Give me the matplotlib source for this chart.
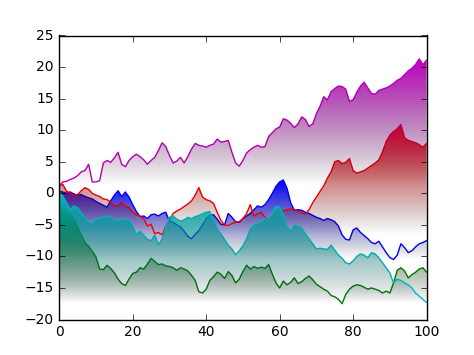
import numpy as np
import matplotlib
matplotlib.use("Agg")
import matplotlib.pyplot as plt
import matplotlib.colors as mcolors
from matplotlib.patches import Polygon

x_vals = np.arange(0, 101)

blue_vals = [0.3, 0.2, 0.0, 0.2, -0.1, -0.3, -0.2, -0.5, -0.7, -0.9,
             -1.3, -1.6, -1.9, -2.2, -1.2, -0.3, 0.4, -0.5, 0.2, -0.6,
             -1.8, -2.9, -3.7, -3.6, -4.0, -3.4, -3.3, -3.6, -3.2, -3.0,
             -4.4, -4.6, -5.0, -5.3, -6.0, -6.8, -7.2, -6.5, -5.9, -5.0,
             -4.0, -3.5, -3.4, -4.1, -4.9, -5.0, -3.2, -3.8, -4.5, -4.6,
             -4.0, -3.6, -3.2, -2.6, -2.0, -2.2, -1.8, -1.0, 0.0, 1.1,
             1.8, 2.1, 0.8, -1.5, -2.7, -2.6, -2.7, -3.0, -3.2, -3.5,
             -3.8, -4.0, -4.3, -4.0, -4.2, -4.5, -5.2, -6.6, -7.3, -7.4,
             -5.8, -5.5, -6.2, -6.7, -7.2, -7.8, -8.0, -7.6, -8.5, -9.4,
             -10.2, -10.5, -9.8, -8.0, -8.6, -9.4, -9.1, -8.5, -8.0, -7.8,
             -7.5]

green_vals = [-1.5, -2.2, -3.0, -3.4, -4.0, -5.3, -6.6, -7.8, -8.4, -9.2,
              -10.1, -12.0, -12.1, -11.4, -11.9, -12.6, -13.6, -14.3, -14.6, -13.6,
              -12.7, -12.5, -11.8, -12.0, -11.2, -10.3, -10.8, -11.3, -11.2, -11.5,
              -11.6, -11.8, -12.2, -11.8, -12.0, -12.3, -13.0, -13.8, -15.6, -15.8,
              -15.2, -13.8, -13.2, -12.5, -12.8, -13.5, -12.4, -13.0, -14.2, -13.6,
              -12.4, -11.4, -12.0, -11.6, -11.9, -11.7, -11.9, -11.3, -12.8, -14.2,
              -15.0, -13.9, -14.5, -14.1, -13.4, -14.3, -14.0, -13.5, -13.1, -13.7,
              -14.4, -14.8, -15.2, -15.5, -16.2, -16.4, -16.8, -17.5, -16.0, -15.2,
              -14.7, -14.5, -14.6, -14.9, -15.2, -15.0, -15.2, -15.4, -15.8, -15.5,
              -15.8, -14.2, -12.2, -11.8, -12.3, -13.4, -12.9, -12.5, -12.0, -11.8,
              -12.5]

red_vals = [1.2, 1.4, 0.3, 0.1, -0.4, -0.2, 0.4, 0.9, 0.6, 0.0,
            -0.3, -0.5, -0.9, -1.0, -1.4, -2.0, -1.9, -1.4, -2.1, -2.2,
            -3.0, -3.4, -3.6, -4.0, -5.2, -4.9, -6.4, -6.2, -6.6, -5.2,
            -4.3, -3.2, -2.8, -2.5, -2.1, -1.7, -1.2, -0.3, 0.9, -0.6,
            -1.0, -1.2, -1.6, -3.0, -4.3, -5.0, -5.1, -4.8, -4.6, -4.5,
            -4.0, -3.2, -1.8, -3.6, -3.2, -3.0, -3.8, -4.3, -3.6, -3.0,
            -2.6, -2.8, -2.6, -2.5, -2.6, -2.8, -3.1, -3.3, -2.6, -1.5,
            -0.6, 0.3, 1.2, 2.4, 3.4, 5.0, 5.2, 4.7, 4.9, 5.5,
            3.6, 3.2, 3.4, 3.6, 4.0, 4.4, 4.8, 5.3, 6.6, 8.2,
            9.2, 9.8, 10.2, 10.9, 8.8, 8.4, 8.2, 8.0, 7.7, 7.3,
            7.9]

cyan_vals = [0.2, -0.5, -1.5, -2.6, -2.0, -2.3, -3.2, -3.8, -4.6, -4.8,
             -4.1, -4.0, -3.8, -3.6, -3.8, -4.2, -4.4, -4.1, -4.0, -4.3,
             -5.2, -6.5, -6.0, -6.6, -7.3, -7.5, -6.6, -8.1, -7.2, -5.4,
             -3.8, -3.6, -4.1, -4.4, -4.2, -3.8, -4.0, -3.7, -3.5, -3.2,
             -3.0, -2.9, -4.2, -5.6, -6.4, -7.3, -8.2, -8.8, -9.7, -9.1,
             -8.3, -7.2, -5.6, -5.0, -4.8, -4.6, -3.9, -4.5, -3.1, -2.1,
             -2.2, -3.4, -5.2, -6.0, -5.0, -5.2, -5.5, -6.4, -7.2, -8.0,
             -8.8, -8.7, -8.8, -8.9, -8.2, -9.0, -9.8, -10.3, -11.0, -11.2,
             -10.7, -10.0, -9.6, -9.8, -10.2, -9.4, -9.6, -10.2, -11.0, -11.8,
             -12.6, -14.2, -13.6, -13.8, -14.2, -14.5, -15.0, -15.8, -16.3, -16.8,
             -17.3]

magenta_vals = [1.2, 1.8, 1.9, 2.2, 2.4, 2.8, 3.4, 3.6, 4.6, 1.8,
                1.8, 2.0, 4.8, 5.2, 4.9, 5.6, 6.5, 4.6, 4.2, 5.2,
                5.8, 6.2, 5.8, 5.3, 4.6, 5.2, 5.7, 6.8, 8.0, 7.4,
                6.0, 4.8, 5.1, 5.7, 4.8, 5.8, 7.0, 7.9, 7.6, 7.5,
                7.3, 7.6, 7.8, 8.6, 8.1, 8.2, 8.4, 6.5, 4.8, 4.3,
                5.2, 6.4, 6.9, 7.3, 7.6, 7.3, 7.4, 9.0, 9.6, 10.2,
                10.5, 11.8, 11.6, 11.1, 10.4, 11.0, 12.1, 11.7, 10.6, 11.0,
                12.6, 13.8, 15.3, 14.8, 16.1, 16.6, 17.0, 16.9, 16.5, 14.6,
                14.8, 16.0, 17.0, 17.6, 16.7, 15.8, 15.7, 16.3, 16.5, 16.7,
                17.0, 17.4, 17.9, 18.2, 18.8, 19.4, 19.8, 20.4, 21.3, 20.4,
                21.1]

series = [blue_vals, green_vals, red_vals, cyan_vals, magenta_vals]
colors = ['b', 'g', 'r', 'c', 'm']


def gradient_fill(ax, x, y, color):
    x = np.asarray(x, dtype=float)
    y = np.asarray(y, dtype=float)
    line, = ax.plot(x, y, color=color, lw=1.0)
    zorder = line.get_zorder()

    # vertical alpha ramp; colour also greys out toward the bottom,
    # which gives the smoky look of the old renderer
    alpha = np.linspace(0, 1.0, 100)[:, None]
    z = np.empty((100, 1, 4), dtype=float)
    z[:, :, :3] = np.array(mcolors.to_rgb(color)) * (alpha ** 0.6)[:, :, None]
    z[:, :, -1] = alpha

    xmin, xmax, ymin, ymax = x.min(), x.max(), y.min(), y.max()
    im = ax.imshow(z, aspect='auto', extent=[xmin, xmax, ymin, ymax],
                   origin='lower', zorder=zorder)

    xy = np.column_stack([x, y])
    xy = np.vstack([[xmin, ymin], xy, [xmax, ymin], [xmin, ymin]])
    clip = Polygon(xy, facecolor='none', edgecolor='none', closed=True)
    ax.add_patch(clip)
    im.set_clip_path(clip)
    return line, im


plt.style.use('classic')
fig = plt.figure(figsize=(4.74, 3.55), dpi=100)
ax = fig.add_subplot(111)

for vals, col in zip(series, colors):
    gradient_fill(ax, x_vals, vals, col)

ax.set_xlim(0, 100)
ax.set_ylim(-20, 25)
ax.tick_params(labelsize=10)

fig.savefig("out.png", dpi=100)
